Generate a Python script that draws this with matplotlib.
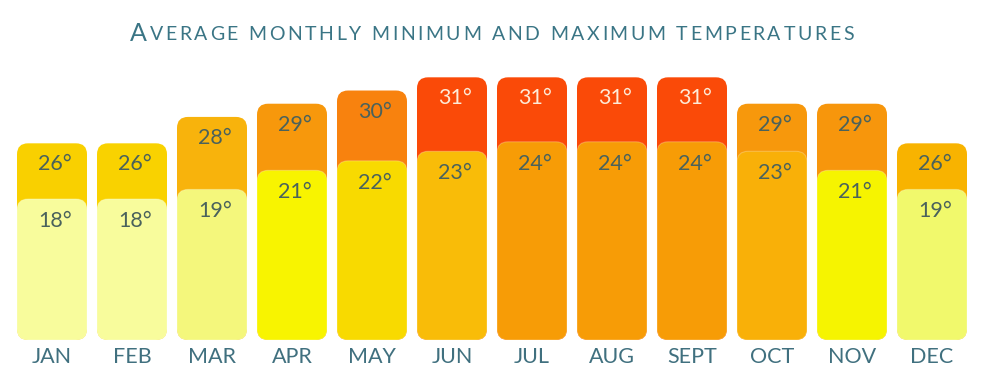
import matplotlib
matplotlib.use("Agg")
import matplotlib.pyplot as plt
from matplotlib.patches import FancyBboxPatch

months = ["JAN", "FEB", "MAR", "APR", "MAY", "JUN", "JUL", "AUG", "SEPT", "OCT", "NOV", "DEC"]
max_temps = [26, 26, 28, 29, 30, 31, 31, 31, 31, 29, 29, 26]
min_temps = [18, 18, 19, 21, 22, 23, 24, 24, 24, 23, 21, 19]
max_colors = ["#F9D000", "#F9D200", "#F8B30C", "#F7980C", "#F8820E", "#FA4A08", "#FA4A08",
              "#FA4A08", "#FA4A08", "#F7980C", "#F7960C", "#F8B300"]
min_colors = ["#F8FC9C", "#F8FC9C", "#F4F77C", "#F8F400", "#F8DA00", "#F9BC08", "#F79C06",
              "#F79C06", "#F79C06", "#F9B008", "#F6F400", "#F1F96C"]
max_label_colors = ["#4A625C"] * 5 + ["#FDEBD8"] * 4 + ["#4A625C"] * 3
min_label_colors = ["#4A625C"] * 12
title = "AVERAGE MONTHLY MINIMUM AND MAXIMUM TEMPERATURES"

W, H = 983, 387
fig = plt.figure(figsize=(W / 100, H / 100), dpi=100)
fig.patch.set_facecolor("white")

x = list(range(len(months)))
xlim = (-52 / 80, (W - 52) / 80)
bar_w = 70 / 80

ax_max = fig.add_axes([0, 0, 1, 1])
ax_max.set_xlim(*xlim)
max_base = 11.1
max_scale = 13.2
ax_max.set_ylim(max_base - (H - 340) / max_scale, max_base + 340 / max_scale)
ax_max.axis("off")

ax_min = fig.add_axes([0, 0, 1, 1])
ax_min.set_xlim(*xlim)
min_base = 3.2
min_scale = 9.53
ax_min.set_ylim(min_base - (H - 340) / min_scale, min_base + 340 / min_scale)
ax_min.axis("off")
ax_min.patch.set_alpha(0)

label_font = ["Lato", "DejaVu Sans"]
PT = 72 / 100  # points per pixel


def rounded_bars(ax, values, base, scale, colors, edge):
    bars = ax.bar(x, [v - base for v in values], bottom=base, width=bar_w)
    r_px = 11
    rx = r_px / 80
    ry = r_px / scale
    for b, c in zip(bars, colors):
        bx, by, bw, bh = b.get_x(), b.get_y(), b.get_width(), b.get_height()
        b.remove()
        p = FancyBboxPatch((bx + rx, by + ry), bw - 2 * rx, bh - 2 * ry,
                           boxstyle=f"round,pad={rx},rounding_size={rx}",
                           mutation_aspect=ry / rx,
                           facecolor=c, edgecolor=edge, linewidth=0.8)
        ax.add_patch(p)


rounded_bars(ax_max, max_temps, max_base, max_scale, max_colors, "none")
rounded_bars(ax_min, min_temps, min_base, min_scale, min_colors, "#FFFFFF40")

for i, (v, c) in enumerate(zip(max_temps, max_label_colors)):
    ax_max.annotate(f"{v}°", (i, v), xytext=(3 * PT, -21 * PT), textcoords="offset points",
                    ha="center", va="center", fontsize=15.5, color=c, family=label_font)
for i, (v, c) in enumerate(zip(min_temps, min_label_colors)):
    ax_min.annotate(f"{v}°", (i, v), xytext=(3 * PT, -22 * PT), textcoords="offset points",
                    ha="center", va="center", fontsize=15.5, color=c, family=label_font)

for i, m in enumerate(months):
    ax_max.text(i, max_base - 17 / max_scale, m, ha="center", va="center",
                fontsize=15.5, color="#40707F", family=label_font)

# title: small-caps look with letter spacing
fig.canvas.draw()
renderer = fig.canvas.get_renderer()
xpos = 130.0
track = 2.6
for k, ch in enumerate(title):
    size = 18 if k == 0 else 14
    ypix = 33.5 if k == 0 else 35.0
    t = fig.text(xpos / W, 1 - ypix / H, ch, ha="left", va="center", fontsize=size,
                 color="#3A7585", family=label_font)
    if ch == " ":
        w = size * 0.28 / PT
    else:
        w = t.get_window_extent(renderer).width
    xpos += w + track

fig.savefig("out.png", dpi=100, facecolor="white")
